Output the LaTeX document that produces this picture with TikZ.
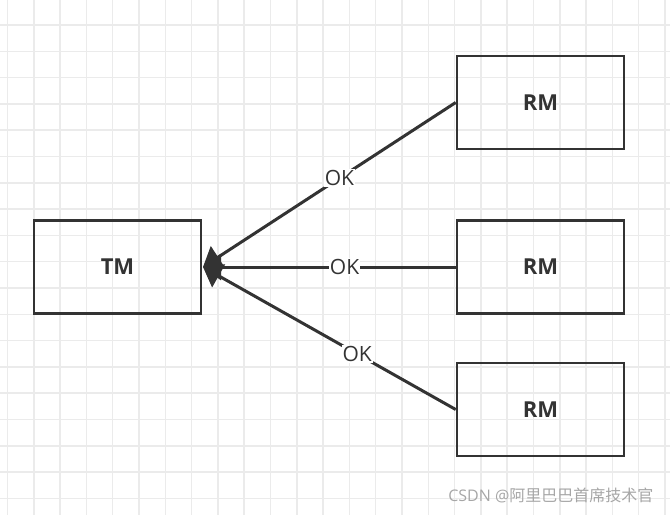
\documentclass[tikz,border=0pt]{standalone}
\usepackage{fontspec}
\setmainfont{Open Sans}
\newfontfamily\cjk{Noto Sans CJK SC}
\usetikzlibrary{arrows.meta}
\definecolor{ink}{HTML}{333333}
\definecolor{gridc}{HTML}{EBEBEB}
\tikzset{
  box/.style={draw=ink, line width=2.6pt, minimum width=167pt, minimum height=93pt, font=\bfseries\fontsize{22}{26}\selectfont, text=ink},
  link/.style={draw=ink, line width=3pt, -{Triangle[length=18pt,width=26pt]}},
  lbl/.style={fill=white, inner sep=1pt, font=\fontsize{21}{25}\selectfont, text=ink}
}
\begin{document}
\begin{tikzpicture}[x=1pt, y=-1pt]
        % background grid
        \useasboundingbox (0,0) rectangle (670,515);
        \foreach \x in {0,...,25} {
          \draw[gridc, line width=1.5pt] ({7.5+26.3*\x},0) -- ({7.5+26.3*\x},515);
        }
        \foreach \y in {-1,...,19} {
          \draw[gridc, line width=1.5pt] (0,{25+26.3*\y}) -- (670,{25+26.3*\y});
        }
        % nodes
        \node[box] (tm) at (117.5,267) {TM};
        \node[box] (rm1) at (540.5,102.5) {RM};
        \node[box] (rm2) at (540.5,267) {RM};
        \node[box] (rm3) at (540.5,409.5) {RM};
        \coordinate (tip) at (203,267);
        % links
        \draw[link] (rm1.west) -- node[lbl, pos=0.46] {OK} (tip);
        \draw[link] (rm2.west) -- node[lbl, pos=0.44] {OK} (tip);
        \draw[link] (rm3.west) -- node[lbl, pos=0.39] {OK} (tip);
        % watermark
        \node[text=gray!70, font=\fontsize{16}{19}\selectfont, anchor=east] (mark) at (657,495) {CSDN @{\cjk 阿里巴巴首席技术官}};
\end{tikzpicture}
\end{document}
